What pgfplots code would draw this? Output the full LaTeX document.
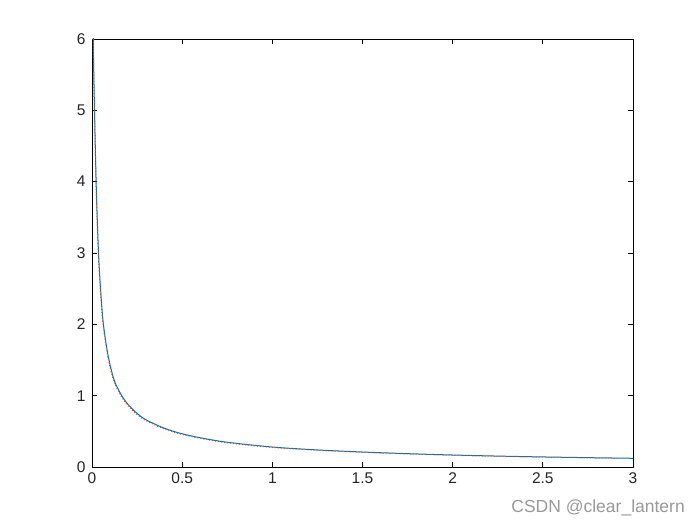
\documentclass[border=0pt]{standalone}
\usepackage{pgfplots}
\pgfplotsset{compat=1.18}
\usepackage{pgfplotstable}
\usepackage{fontspec}
\setmainfont{Liberation Sans}
\definecolor{mblue}{rgb}{0,0.447,0.741}
\definecolor{morange}{rgb}{0.85,0.325,0.098}
\pgfplotstableread{
x y
0.005 6.8
0.007 6.0
0.010 5.5
0.014 5.0
0.019 4.4
0.025 3.8
0.033 3.2
0.040 2.8
0.050 2.4
0.061 2.05
0.075 1.78
0.090 1.55
0.110 1.33
0.130 1.17
0.165 1.0
0.200 0.876
0.250 0.751
0.303 0.657
0.400 0.545
0.490 0.472
0.600 0.410
0.750 0.347
1.000 0.280
1.250 0.239
1.500 0.210
1.750 0.187
2.000 0.168
2.250 0.153
2.500 0.141
2.750 0.131
3.000 0.122
}\curve
\begin{document}
\begin{tikzpicture}
\useasboundingbox (0,0) rectangle (700pt,525pt);
\begin{axis}[
  at={(92pt,58pt)}, anchor=south west,
  width=541pt, height=428pt, scale only axis,
  xmin=0, xmax=3, ymin=0, ymax=6,
  xtick={0,0.5,...,3}, ytick={0,1,...,6},
  xticklabels={0,0.5,1,1.5,2,2.5,3},
  tick align=inside, tick pos=both,
  major tick length=5pt,
  tick style={black, line width=0.8pt},
  axis line style={black, line width=0.8pt},
  /pgf/number format/assume math mode=true,
  ticklabel style={font=\fontsize{15.5}{17}\selectfont, text=black!85},
  xticklabel style={yshift=-2pt},
  yticklabel style={xshift=-3pt},
  clip=true,
]
\addplot[mblue, line width=1pt, smooth] table {\curve};
\addplot[morange, line width=1pt, dotted, smooth] table[x expr=\thisrow{x}*0.97] {\curve};
\end{axis}
\node[anchor=base east, text=black!40, font=\fontsize{17.5}{20}\selectfont, inner sep=0pt] at (685pt,13pt) {CSDN @clear\_lantern};
\end{tikzpicture}
\end{document}
